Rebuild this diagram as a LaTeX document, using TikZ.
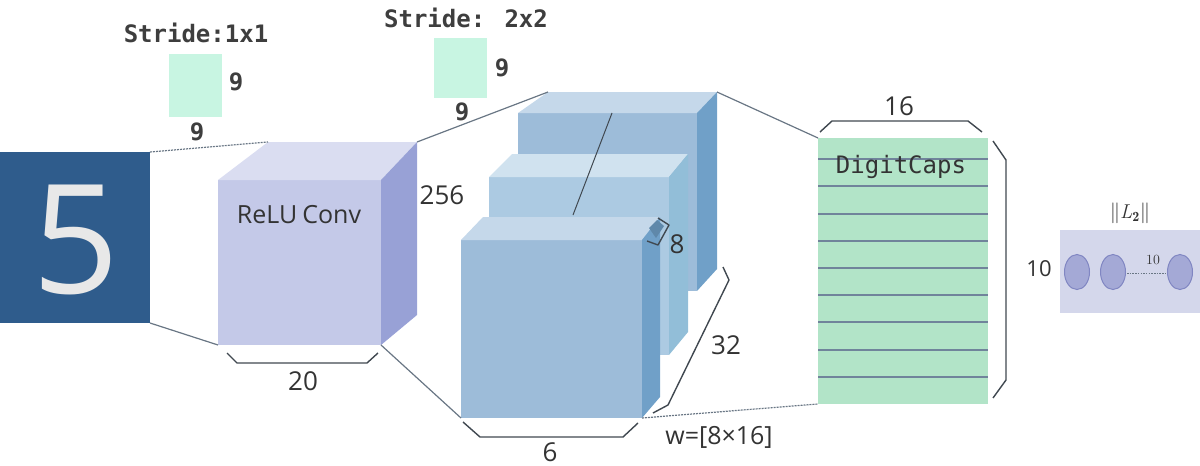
\documentclass[tikz,border=0pt]{standalone}
\usepackage{fontspec}
\newfontfamily\lab{Open Sans}
\newfontfamily\mono{DejaVu Sans Mono}
\definecolor{inblue}{RGB}{47,92,140}
\definecolor{mint}{RGB}{200,245,226}
\definecolor{relufront}{RGB}{196,201,232}
\definecolor{relutop}{RGB}{218,221,241}
\definecolor{reluright}{RGB}{152,161,214}
\definecolor{capfront}{RGB}{157,188,217}
\definecolor{captop}{RGB}{197,216,234}
\definecolor{capright}{RGB}{112,160,200}
\definecolor{midfront}{RGB}{172,202,226}
\definecolor{midtop}{RGB}{208,226,239}
\definecolor{midright}{RGB}{146,190,216}
\definecolor{digitgreen}{RGB}{178,228,200}
\definecolor{rowline}{RGB}{112,132,155}
\definecolor{lbox}{RGB}{212,215,235}
\definecolor{ellfill}{RGB}{164,169,214}
\definecolor{elldraw}{RGB}{128,134,194}
\definecolor{conn}{RGB}{105,118,132}
\definecolor{brk}{RGB}{64,72,80}
\definecolor{txt}{RGB}{51,51,51}
\definecolor{monotxt}{RGB}{62,62,62}
\tikzset{
  connline/.style={draw=conn, line width=1.2pt},
  conndash/.style={draw=conn, line width=1.2pt, dash pattern=on 2pt off 1pt},
  bracketline/.style={draw=brk, line width=1.4pt, line join=round},
  dimlabel/.style={text=txt, font=\lab\fontsize{26}{28}\selectfont, inner sep=0pt},
  monolabel/.style={text=monotxt, font=\mono\bfseries\fontsize{24}{26}\selectfont, inner sep=0pt},
}
\begin{document}
\begin{tikzpicture}[x=1pt,y=-1pt]
\useasboundingbox (0,0) rectangle (1200,466);

% input image
\fill[inblue] (0,152) rectangle (150,323);
\node[text={rgb,255:red,232;green,232;blue,232}, font=\lab\fontsize{152}{152}\selectfont, inner sep=0pt] (five) at (76,240) {5};
\coordinate (inTR) at (150,152);
\coordinate (inBR) at (150,323);

% stride labels and kernels
\node[monolabel] (s1) at (196,33) {Stride:1x1};
\fill[mint] (169,54) rectangle (222,117);
\node[monolabel] (k1r) at (236,82) {9};
\node[monolabel] (k1b) at (197,132) {9};
\node[monolabel] (s2) at (466,18) {Stride: 2x2};
\fill[mint] (434,38) rectangle (487,98);
\node[monolabel] (k2r) at (502,68) {9};
\node[monolabel] (k2b) at (462,112) {9};

% ReLU conv cube
\fill[relufront] (218,180) rectangle (381,345);
\fill[relutop] (218,180)--(268,142)--(417,142)--(381,180)--cycle;
\fill[reluright] (381,180)--(417,142)--(417,315)--(381,345)--cycle;
\node[text=txt, font=\lab\fontsize{25}{27}\selectfont, inner sep=0pt] (relu) at (299,215) {ReLU\hspace{5pt}Conv};
\coordinate (reluTL) at (268,142);
\coordinate (reluTR) at (417,142);
\coordinate (reluBL) at (218,345);
\coordinate (reluBR) at (381,345);
\node[dimlabel] (d256) at (442,195) {256};
\draw[bracketline] (227,353)--(237,363)--(367,363)--(378,353);
\node[dimlabel] (d20) at (303,381) {20};

% connectors input -> relu
\draw[conndash] (inTR)--(reluTL);
\draw[connline] (inBR)--(reluBL);

% primary caps: back block
\fill[capfront] (518,113) rectangle (697,291);
\fill[captop] (518,113)--(548,92)--(717,92)--(697,113)--cycle;
\fill[capright] (697,113)--(717,92)--(717,269)--(697,291)--cycle;
% middle block
\fill[midfront] (489,177) rectangle (669,355);
\fill[midtop] (489,177)--(512,154)--(688,154)--(669,177)--cycle;
\fill[midright] (669,177)--(688,154)--(688,332)--(669,355)--cycle;
\draw[draw=brk, line width=1pt] (612,113)--(573,215);
% front block
\fill[capfront] (461,240) rectangle (642,418);
\fill[captop] (461,240)--(483,217)--(660,217)--(642,240)--cycle;
\fill[capright] (642,240)--(660,217)--(660,397)--(642,418)--cycle;
\fill[capright!85!black] (649,228)--(657,220)--(664,226)--(656,238)--cycle;
\coordinate (capTL) at (548,92);
\coordinate (capTR) at (717,92);
\coordinate (capBL) at (461,418);
\coordinate (capBR) at (642,418);

\draw[connline] (reluTR)--(capTL);
\draw[connline] (reluBR)--(capBL);

\draw[bracketline] (658,218)--(669,225)--(658,245)--(647,241);
\node[dimlabel] (d8) at (677,244) {8};
\draw[bracketline] (723,267)--(729,280)--(668,405)--(653,413);
\node[dimlabel] (d32) at (726,345) {32};
\draw[bracketline] (463,422)--(480,437)--(623,437)--(638,423);
\node[dimlabel] (d6) at (550,452) {6};
\node[text=txt, font=\lab\fontsize{25}{27}\selectfont, inner sep=0pt] (w) at (719,437) {w=[8\texttimes16]};

% DigitCaps
\fill[digitgreen] (818,138) rectangle (988,404);
\foreach \yy in {159,186,214,241,268,295,322,350,377}
  \draw[rowline, line width=1.3pt] (818,\yy)--(988,\yy);
\node[text=txt, font=\mono\fontsize{24}{26}\selectfont, inner sep=0pt] (dc) at (901,167) {DigitCaps};
\coordinate (dcTL) at (818,138);
\coordinate (dcBL) at (818,404);
\draw[connline] (capTR)--(dcTL);
\draw[conndash] (capBR)--(dcBL);
\draw[bracketline] (820,132)--(832,121)--(968,121)--(982,132);
\node[dimlabel] (d16) at (899,106) {16};
\draw[bracketline] (993,141)--(1006,160)--(1006,380)--(993,398);

% L2 norm box
\fill[lbox] (1060,230) rectangle (1200,313);
\foreach \cx/\nm in {1077/e1,1113/e2,1180/e3}
  \draw[fill=ellfill, draw=elldraw, line width=1pt] (\cx,272) ellipse [x radius=12.5, y radius=17.5];
\draw[draw=conn, line width=0.9pt, dash pattern=on 1.5pt off 1.2pt] (1127,273)--(1167,273);
\node[text=txt, font=\fontsize{14}{16}\selectfont, inner sep=0pt] (n10s) at (1153,260) {10};
\node[text=txt, font=\lab\fontsize{22}{24}\selectfont, inner sep=0pt] (n10) at (1039,269) {10};
\node[text=txt, font=\fontsize{20}{22}\selectfont, inner sep=0pt] (l2) at (1130,213) {$\|\mathbf{\mathit{L}}_{\mathbf{2}}\|$};
\end{tikzpicture}
\end{document}
